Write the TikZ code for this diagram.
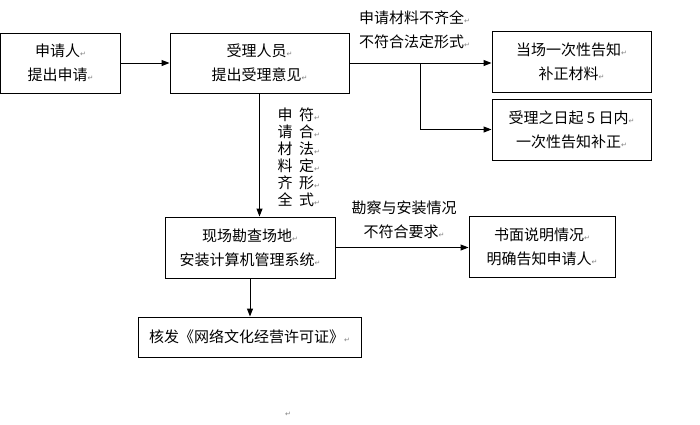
\documentclass[tikz,border=0pt]{standalone}
\usepackage{fontspec}
\setmainfont{Noto Sans CJK SC}
\newfontfamily\markfont{DejaVu Sans}
\usetikzlibrary{arrows.meta,
                positioning
            }
% Word paragraph mark after each line
\newcommand{\pmark}{{\markfont\fontsize{7}{7}\selectfont\color{gray}↵}}

\begin{document}
\begin{tikzpicture}[x=1pt, y=-1pt,
        box/.style={draw, line width=1pt, inner sep=0pt, align=center,
                    font=\fontsize{15}{24}\selectfont},
        lbl/.style={inner sep=0pt, font=\fontsize{15}{24}\selectfont},
        col/.style={inner sep=0pt, align=center, font=\fontsize{15}{17}\selectfont},
        flow/.style={line width=1pt, -{Triangle[length=8pt, width=6pt]}}
    ]
            \useasboundingbox (0,0) rectangle (700,424);
            \node[box, minimum width=120, minimum height=60] (apply) at (60.5, 63) {申请人\pmark\\提出申请\pmark};
            \node[box, minimum width=179, minimum height=60] (accept) at (259.5, 63) {受理人员\pmark\\提出受理意见\pmark};
            \node[box, minimum width=159, minimum height=61] (notify) at (571.5, 61.5) {当场一次性告知\pmark\\补正材料\pmark};
            \node[box, minimum width=159, minimum height=61] (fivedays) at (571.5, 129.5) {受理之日起 5 日内\pmark\\一次性告知补正\pmark};
            \node[box, minimum width=170, minimum height=61] (inspect) at (250, 247.5) {现场勘查场地\pmark\\安装计算机管理系统\pmark};
            \node[box, minimum width=146, minimum height=61] (explain) at (542, 246.5) {书面说明情况\pmark\\明确告知申请人\pmark};
            \node[box, minimum width=223, minimum height=40] (licence) at (249.5, 337) {核发《网络文化经营许可证》\pmark};
            % labels on the connectors
            \node[lbl, anchor=west, align=left] (incomplete) at (359, 30) {申请材料不齐全\pmark\\不符合法定形式\pmark};
            \node[col] (leftcol) at (285, 157) {申\\请\\材\\料\\齐\\全};
            \node[col, anchor=west] (rightcol) at (299, 157) {符\pmark\\合\pmark\\法\pmark\\定\pmark\\形\pmark\\式\pmark};
            \node[lbl, align=center] (unfit) at (404, 220) {勘察与安装情况\\不符合要求\pmark};
            \node[inner sep=0pt] (endmark) at (288, 414) {\pmark};
            % connectors
            \coordinate (split) at (420, 63);
            \draw[flow] (apply.east) -- (accept.west);
            \draw[flow] (accept.east) -- (accept.east -| notify.west);
            \draw[flow] (split) |- (fivedays.west);
            \draw[flow] (accept.south) -- (accept.south |- inspect.north);
            \draw[flow] (inspect.east) -- (inspect.east -| explain.west);
            \draw[flow] (inspect.south) -- (inspect.south |- licence.north);
        \end{tikzpicture}
\end{document}
